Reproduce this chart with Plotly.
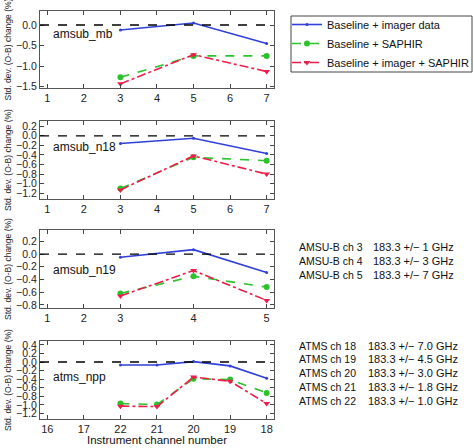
import plotly.graph_objects as go

# tick labels along each x axis (axis position = index + 1)
amsu_ticks = ["1", "2", "3", "4", "5", "6", "7"]
n19_ticks = ["1", "2", "3", "", "4", "", "5"]
atms_ticks = ["16", "17", "22", "21", "20", "19", "18"]

series_names = ["Baseline + imager data", "Baseline + SAPHIR", "Baseline + imager + SAPHIR"]

mb_channels = ["3", "5", "7"]
mb_imager = [-0.12, 0.05, -0.45]
mb_saphir = [-1.27, -0.75, -0.75]
mb_both = [-1.43, -0.72, -1.13]

n18_channels = ["3", "5", "7"]
n18_imager = [-0.16, -0.05, -0.37]
n18_saphir = [-1.10, -0.45, -0.52]
n18_both = [-1.13, -0.42, -0.80]

n19_channels = ["3", "4", "5"]
n19_imager = [-0.05, 0.07, -0.29]
n19_saphir = [-0.62, -0.35, -0.52]
n19_both = [-0.66, -0.26, -0.73]

npp_channels = ["22", "21", "20", "19", "18"]
npp_imager = [-0.07, -0.07, 0.01, -0.09, -0.38]
npp_saphir = [-0.97, -0.99, -0.39, -0.41, -0.72]
npp_both = [-1.03, -1.04, -0.35, -0.45, -0.97]

amsu_freq_labels = ["AMSU-B ch 3", "AMSU-B ch 4", "AMSU-B ch 5"]
amsu_freq_values = ["183.3 +/\u2212 1 GHz", "183.3 +/\u2212 3 GHz", "183.3 +/\u2212 7 GHz"]
atms_freq_labels = ["ATMS ch 18", "ATMS ch 19", "ATMS ch 20", "ATMS ch 21", "ATMS ch 22"]
atms_freq_values = ["183.3 +/\u2212 7.0 GHz", "183.3 +/\u2212 4.5 GHz", "183.3 +/\u2212 3.0 GHz",
                    "183.3 +/\u2212 1.8 GHz", "183.3 +/\u2212 1.0 GHz"]

panels = [
    dict(name="amsub_mb", ticks=amsu_ticks, ch=mb_channels, ys=[mb_imager, mb_saphir, mb_both],
         yrange=[-1.53, 0.34], dtick=0.5, dom=[0.8036, 0.9754], label_y=0.70),
    dict(name="amsub_n18", ticks=amsu_ticks, ch=n18_channels, ys=[n18_imager, n18_saphir, n18_both],
         yrange=[-1.32, 0.31], dtick=0.2, dom=[0.5558, 0.730], label_y=0.67),
    dict(name="amsub_n19", ticks=n19_ticks, ch=n19_channels, ys=[n19_imager, n19_saphir, n19_both],
         yrange=[-0.85, 0.38], dtick=0.2, dom=[0.3125, 0.4866], label_y=0.49),
    dict(name="atms_npp", ticks=atms_ticks, ch=npp_channels, ys=[npp_imager, npp_saphir, npp_both],
         yrange=[-1.33, 0.49], dtick=0.2, dom=[0.0647, 0.2388], label_y=0.54),
]

FONT = "Liberation Sans, Arial, sans-serif"
colors = ["#3040d8", "#2cc22c", "#ee1c4a"]
dashes = ["solid", "dash", "dashdot"]
markers = [dict(symbol="circle", size=3), dict(symbol="circle", size=6), dict(symbol="triangle-down", size=6)]

fig = go.Figure()
annotations = []
shapes = []
layout = {}


def text_note(text, x, y, size=10.5, **kw):
    return dict(text=text, xref="paper", yref="paper", x=x / 474, y=1 - y / 448,
                xanchor=kw.pop("xanchor", "left"), yanchor="middle", showarrow=False,
                font=dict(size=size, color="#111"), **kw)


for i, p in enumerate(panels):
    n = "" if i == 0 else str(i + 1)
    xs = [p["ticks"].index(c) + 1 for c in p["ch"]]
    for k, y in enumerate(p["ys"]):
        fig.add_trace(go.Scatter(
            x=xs, y=y, xaxis="x" + n, yaxis="y" + n, name=series_names[k],
            mode="lines+markers", showlegend=(i == 0),
            line=dict(color=colors[k], width=1.6, dash=dashes[k]),
            marker=dict(color=colors[k], **markers[k]),
        ))
    tickvals = [j + 1 for j, t in enumerate(p["ticks"]) if t]
    ticktext = [t for t in p["ticks"] if t]
    layout["xaxis" + n] = dict(
        domain=[0.0844, 0.578], anchor="y" + n, range=[0.8, 7.2], automargin=False,
        tickvals=tickvals, ticktext=ticktext, ticks="inside", ticklen=4,
        mirror="ticks", showline=True, linecolor="#555", linewidth=1.2,
        showgrid=False, zeroline=False, tickfont=dict(size=11, color="#222"),
    )
    layout["yaxis" + n] = dict(
        domain=p["dom"], anchor="x" + n, range=p["yrange"], dtick=p["dtick"],
        tickformat=".1f", ticks="inside", ticklen=4, mirror="ticks", automargin=False,
        showline=True, linecolor="#555", linewidth=1.2, showgrid=False,
        zeroline=False, tickfont=dict(size=10.5, color="#222"),
    )
    shapes.append(dict(type="line", xref="x" + n + " domain", yref="y" + n,
                       x0=0, x1=1, y0=0, y1=0, line=dict(color="black", width=1.3, dash="dash")))
    annotations.append(dict(text=p["name"], xref="x" + n + " domain", yref="y" + n + " domain",
                            x=0.045, y=p["label_y"], xanchor="left", yanchor="middle",
                            showarrow=False, font=dict(size=12, color="#111")))
    annotations.append(dict(text="Std. dev. (O-B) change (%)", xref="paper", yref="paper",
                            x=8 / 474, y=sum(p["dom"]) / 2, textangle=-90,
                            xanchor="center", yanchor="middle", showarrow=False,
                            font=dict(size=8.5, color="#222")))

annotations.append(text_note("Instrument channel number", 157, 440, size=11.5, xanchor="center"))

for j, (lab, val) in enumerate(zip(amsu_freq_labels, amsu_freq_values)):
    yy = 247.5 + 13.6 * j
    annotations.append(text_note(lab, 297, yy))
    annotations.append(text_note(val, 371, yy, size=11))

for j, (lab, val) in enumerate(zip(atms_freq_labels, atms_freq_values)):
    yy = 345.7 + 13.75 * j
    annotations.append(text_note(lab, 297, yy))
    annotations.append(text_note(val, 366, yy, size=11))

# legend frame
shapes.append(dict(type="rect", xref="paper", yref="paper",
                   x0=291 / 474, x1=472 / 474, y0=1 - 72 / 448, y1=1 - 16 / 448,
                   line=dict(color="#444", width=1), fillcolor="rgba(0,0,0,0)"))

fig.update_layout(
    width=474, height=448,
    margin=dict(l=0, r=0, t=0, b=0),
    paper_bgcolor="white", plot_bgcolor="white",
    font=dict(family=FONT, size=11, color="#222"),
    shapes=shapes, annotations=annotations,
    legend=dict(x=292 / 474, y=1 - 10 / 448, xanchor="left", yanchor="top",
                bgcolor="rgba(0,0,0,0)", borderwidth=0,
                font=dict(size=11, color="#111"), itemwidth=30, tracegroupgap=0,
                indentation=-5),
)
fig.update_layout(**layout)

# the page's default body margin would shift the figure by 8px
fig.write_html("out.html", config={"displayModeBar": False},
               post_script="document.body.style.margin='0';")
